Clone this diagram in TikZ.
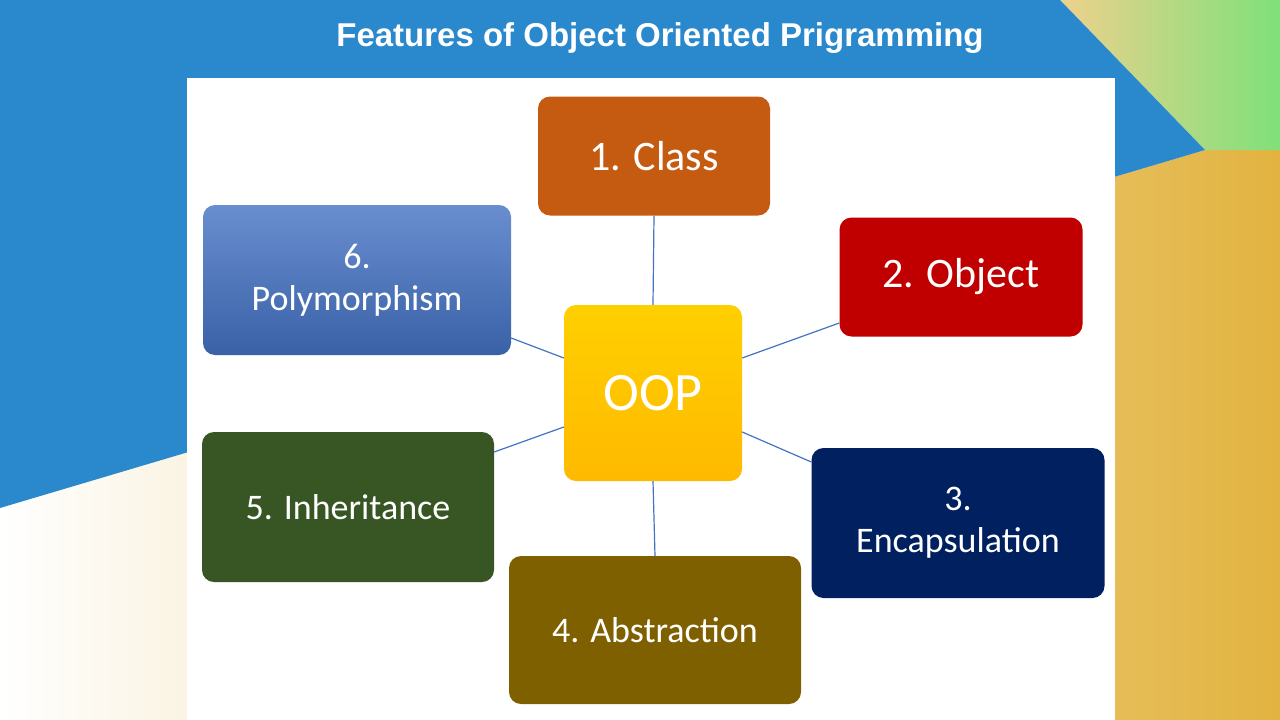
\documentclass[tikz,border=0pt]{standalone}
\usepackage{fontspec}
\setmainfont{Carlito}
\newfontfamily\titlefont{Liberation Sans}
\usetikzlibrary{positioning}
\definecolor{bgblue}{HTML}{2A88CC}
\definecolor{bggold}{HTML}{E2B340}
\definecolor{bggreen}{HTML}{7FE07A}
\definecolor{clsorange}{HTML}{C55A11}
\definecolor{objred}{HTML}{C00000}
\definecolor{encnavy}{HTML}{002060}
\definecolor{absbrown}{HTML}{7F6000}
\definecolor{inhgreen}{HTML}{375623}
\definecolor{polyblue}{HTML}{4472C4}
\definecolor{oopgold}{HTML}{FFC000}
\tikzset{
	%Define style for feature boxes
	feat/.style={
	       rectangle,
	       rounded corners=12pt,
	       draw=none,
	       text=white,
	       align=center,
	       font=\fontsize{36}{42}\selectfont,
	       inner sep=0pt},
	% Define link style
	link/.style={
	       draw=polyblue,
	       line width=1.2pt}
}
\begin{document}
\begin{tikzpicture}[x=1pt,y=-1pt]
		\useasboundingbox (0,0) rectangle (1280,720);
		% background
		\fill[white] (0,0) rectangle (1280,720);
		\shade[left color=white, right color=bggold] (0,508) -- (1205,150) -- (1280,150) -- (1280,720) -- (0,720) -- cycle;
		\shade[left color=bggold!60, right color=bggreen] (1060,0) -- (1280,0) -- (1280,150) -- (1205,150) -- cycle;
		\fill[bgblue] (0,0) -- (1060,0) -- (1205,150) -- (0,508) -- cycle;
		\fill[white] (187,78) rectangle (1115,720);
		\node[text=white, font=\titlefont\bfseries\fontsize{33}{38}\selectfont] (title) at (660,38) {Features of Object Oriented Prigramming};
		% boxes
		\node[feat, minimum width=178pt, minimum height=176pt, top color=oopgold!75!yellow, bottom color=oopgold!90!orange, font=\fontsize{54}{60}\selectfont] (oop) at (653,393) {OOP};
		\node[feat, fill=clsorange, minimum width=232pt, minimum height=119pt, font=\fontsize{42}{48}\selectfont] (cls) at (654,156) {1. Class};
		\node[feat, fill=objred, minimum width=243pt, minimum height=119pt, font=\fontsize{42}{48}\selectfont] (obj) at (961,277) {2. Object};
		\node[feat, fill=encnavy, minimum width=293pt, minimum height=150pt] (enc) at (958,523) {3.\\Encapsulation};
		\node[feat, fill=absbrown, minimum width=292pt, minimum height=148pt] (abs) at (655,630) {4. Abstraction};
		\node[feat, fill=inhgreen, minimum width=292pt, minimum height=150pt] (inh) at (348,507) {5. Inheritance};
		\node[feat, top color=polyblue!80!white, bottom color=polyblue!85!black, minimum width=308pt, minimum height=150pt] (poly) at (357,280) {6.\\Polymorphism};
		% links
		\draw[link] (oop.north) -- (cls.south);
		\draw[link] (oop.east |- 0,358) -- (obj.west |- 0,323);
		\draw[link] (oop.east |- 0,432) -- (enc.west |- 0,462);
		\draw[link] (oop.south) -- (abs.north);
		\draw[link] (oop.west |- 0,427) -- (inh.east |- 0,452);
		\draw[link] (oop.west |- 0,358) -- (poly.east |- 0,338);
\end{tikzpicture}
\end{document}
